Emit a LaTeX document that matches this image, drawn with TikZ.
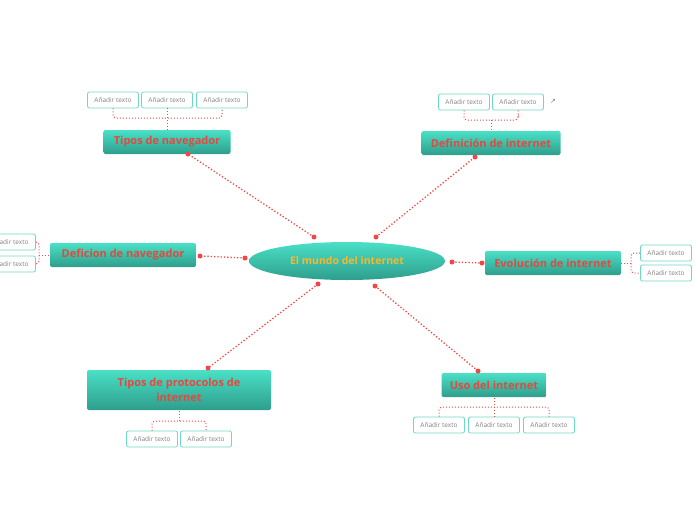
\documentclass[tikz,border=0pt]{standalone}
\usepackage{fontspec}
\setmainfont{Open Sans}
\newfontfamily\djv{DejaVu Sans}
\usetikzlibrary{shapes.geometric}
\begin{document}
\begin{tikzpicture}[x=1pt,y=-1pt,
  mainbox/.style={rounded corners=2pt,top color=teal1,bottom color=teal2,text=redt,font=\bfseries\fontsize{11}{15}\selectfont,inner sep=0pt,minimum height=24pt,align=center},
  addbox/.style={draw=tealb,line width=0.8pt,rounded corners=2pt,fill=white,text=gray,font=\fontsize{6.5}{7}\selectfont,minimum width=51pt,minimum height=16pt,inner sep=0pt},
  link/.style={draw=redl,dotted,line width=1.3pt},
  brk/.style={draw=redl,dotted,line width=1pt,rounded corners=3pt},
  dotn/.style={circle,fill=redl,inner sep=0pt,minimum size=5pt}]
\definecolor{teal1}{HTML}{4AE0C6}
\definecolor{teal2}{HTML}{2E9E8C}
\definecolor{tealb}{HTML}{6ED8C8}
\definecolor{redt}{HTML}{E5483F}
\definecolor{redl}{HTML}{F04848}
\definecolor{yel}{HTML}{F5B830}
\useasboundingbox (0,0) rectangle (696,520);
\node[ellipse,top color=teal1,bottom color=teal2,minimum width=196pt,minimum height=38pt,inner sep=0pt,text=yel,font=\bfseries\fontsize{10.5}{12}\selectfont] (c) at (347,261) {El mundo del internet};
\node[mainbox,minimum width=127pt] (tn) at (167,142) {Tipos de navegador};
\node[mainbox,minimum width=139pt] (di) at (491,143) {Definición de internet};
\node[mainbox,minimum width=146pt] (dn) at (123,255) {Deficion de navegador};
\node[mainbox,minimum width=136pt] (ei) at (553,263) {Evolución de internet};
\node[mainbox,minimum width=184pt,minimum height=40pt] (tp) at (179,390) {Tipos de protocolos de\\internet};
\node[mainbox,minimum width=105pt] (ui) at (494,385) {Uso del internet};
% connectors
\coordinate (a1) at (314,237); \coordinate (b1) at (188,154);
\coordinate (a2) at (376,237); \coordinate (b2) at (475,157);
\coordinate (a3) at (245,258); \coordinate (b3) at (200,256);
\coordinate (a4) at (452,262); \coordinate (b4) at (482,263);
\coordinate (a5) at (318,284); \coordinate (b5) at (208,368);
\coordinate (a6) at (375,286); \coordinate (b6) at (478,371);
\foreach \i in {1,...,6}{\draw[link] (a\i) -- (b\i); \node[dotn] at (a\i) {}; \node[dotn] at (b\i) {};}
% add boxes
\node[addbox] (t1) at (113,100) {Añadir texto};
\node[addbox] (t2) at (167,100) {Añadir texto};
\node[addbox] (t3) at (222,100) {Añadir texto};
\node[addbox] (d1) at (464,102) {Añadir texto};
\node[addbox] (d2) at (518,102) {Añadir texto};
\node[text=gray,font=\djv\fontsize{7}{7}\selectfont] (ic) at (553,101) {↗};
\node[addbox] (n1) at (10,242) {Añadir texto};
\node[addbox] (n2) at (10,264) {Añadir texto};
\node[addbox] (e1) at (666,253) {Añadir texto};
\node[addbox] (e2) at (666,273) {Añadir texto};
\node[addbox] (p1) at (152,439) {Añadir texto};
\node[addbox] (p2) at (206,439) {Añadir texto};
\node[addbox] (u1) at (439,425) {Añadir texto};
\node[addbox] (u2) at (494,425) {Añadir texto};
\node[addbox] (u3) at (549,425) {Añadir texto};
% brackets
\draw[brk] (t1.south) |- (167,118) -| (t3.south); \draw[brk] (t2.south) -- (tn.north);
\draw[brk] (d1.south) |- (518,120) -| (d2.south); \draw[brk] (491,120) -- (di.north);
\draw[brk] (n1.east) -| (39,264) -- (n2.east); \draw[brk] (39,255) -- (dn.west);
\draw[brk] (e1.west) -| (631,273) -- (e2.west); \draw[brk] (631,263) -- (ei.east);
\draw[brk] (p1.north) |- (206,421) -- (p2.north); \draw[brk] (179,421) -- (tp.south);
\draw[brk] (u1.north) |- (549,407) -- (u3.north); \draw[brk] (u2.north) -- (ui.south);
\end{tikzpicture}
\end{document}
